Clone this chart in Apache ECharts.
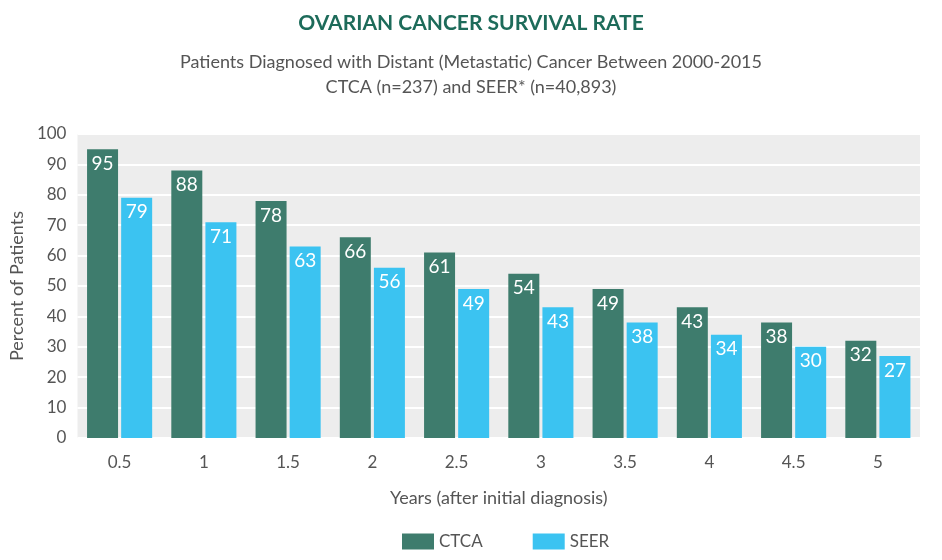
<!DOCTYPE html>
<html style="height: 100%; width: 100%">
  <head>
    <meta charset="utf-8" />
  </head>
  <body style="height: 100%; width: 100%; margin: 0">
    <div id="chart-panel" style="height: 560px; width: 942px"></div>
    <script
      type="text/javascript"
      src="https://cdn.jsdelivr.net/npm/echarts@6/dist/echarts.min.js"
    ></script>
    <script type="text/javascript">
      var years = ["0.5", "1", "1.5", "2", "2.5", "3", "3.5", "4", "4.5", "5"];
      var ctca = [95, 88, 78, 66, 61, 54, 49, 43, 38, 32];
      var seer = [79, 71, 63, 56, 49, 43, 38, 34, 30, 27];

      var font = "Lato";
      var myChart = echarts.init(document.getElementById("chart-panel"));

      var label = {
        show: true,
        position: "insideTop",
        distance: 5,
        color: "#fff",
        fontSize: 19,
        fontFamily: font,
      };

      var option = {
        backgroundColor: "#fff",
        title: [
          {
            text: "OVARIAN CANCER SURVIVAL RATE",
            left: "center",
            top: 8,
            textStyle: {
              color: "#1d6b5a",
              fontSize: 21,
              fontWeight: "bold",
              fontFamily: font,
            },
          },
          {
            text:
              "Patients Diagnosed with Distant (Metastatic) Cancer Between 2000-2015\nCTCA (n=237) and SEER* (n=40,893)",
            left: "center",
            top: 45,
            textStyle: {
              color: "#555",
              fontSize: 18,
              fontWeight: "normal",
              lineHeight: 25,
              fontFamily: font,
            },
          },
        ],
        legend: {
          left: 397,
          top: 528,
          itemWidth: 32,
          itemHeight: 16,
          itemGap: 50,
          icon: "rect",
          textStyle: { color: "#555", fontSize: 17, fontFamily: font },
          data: ["CTCA", "SEER"],
        },
        grid: {
          left: 77,
          right: 22,
          top: 134,
          bottom: 122,
          show: true,
          backgroundColor: "#ededed",
          borderWidth: 0,
        },
        xAxis: {
          type: "category",
          data: years,
          name: "Years (after initial diagnosis)",
          nameLocation: "middle",
          nameGap: 51,
          nameTextStyle: { color: "#555", fontSize: 18, fontFamily: font },
          axisLine: { show: false },
          axisTick: { show: false },
          axisLabel: {
            color: "#555",
            fontSize: 17,
            margin: 16,
            fontFamily: font,
          },
        },
        yAxis: {
          type: "value",
          min: 0,
          max: 100,
          interval: 10,
          name: "Percent of Patients",
          nameLocation: "middle",
          nameGap: 48,
          nameTextStyle: { color: "#555", fontSize: 18, fontFamily: font },
          axisLine: { show: false },
          axisTick: { show: false },
          axisLabel: {
            color: "#555",
            fontSize: 17,
            margin: 11,
            fontFamily: font,
          },
          splitLine: { lineStyle: { color: "#fff", width: 2 } },
        },
        series: [
          {
            name: "CTCA",
            type: "bar",
            data: ctca,
            barWidth: 31,
            barGap: "10%",
            itemStyle: { color: "#3e7c6d" },
            label: label,
          },
          {
            name: "SEER",
            type: "bar",
            data: seer,
            barWidth: 31,
            itemStyle: { color: "#3bc3f1" },
            label: label,
          },
        ],
      };
      myChart.setOption(option);
    </script>
  </body>
</html>
